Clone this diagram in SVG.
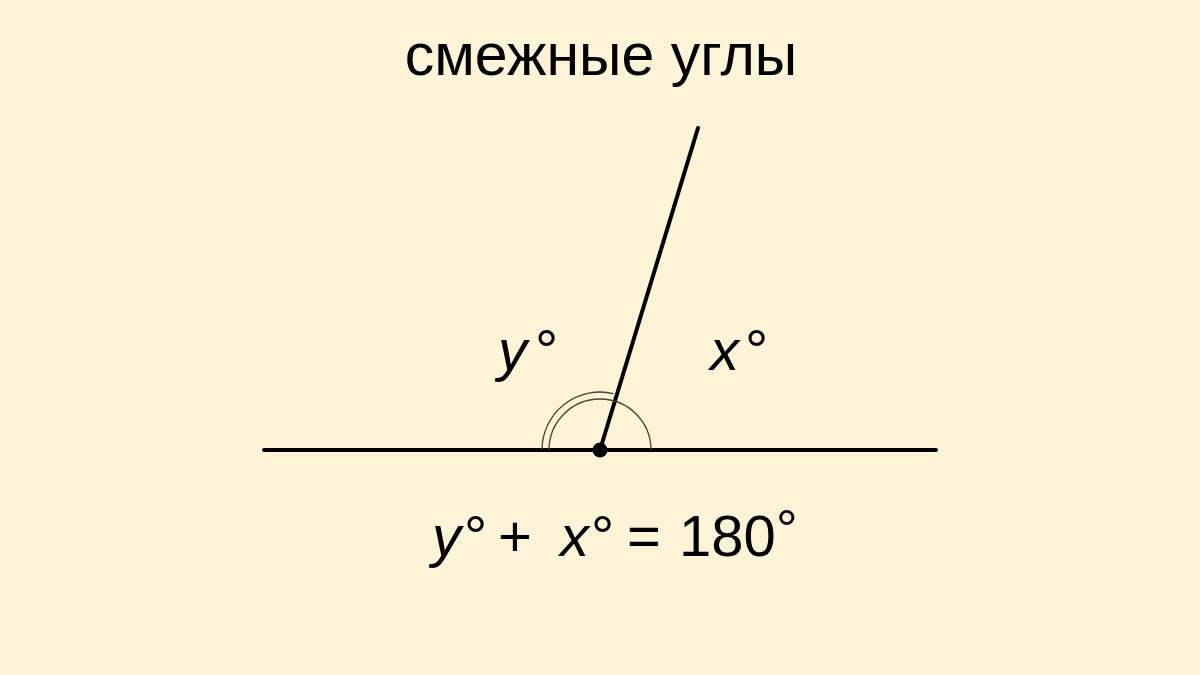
<svg xmlns="http://www.w3.org/2000/svg" width="1200" height="675" viewBox="0 0 1200 675">
<style>
.t{font-family:"Liberation Sans",Arial,sans-serif;fill:#000}
.i{font-style:italic}
.ln{stroke:#000;stroke-width:4;stroke-linecap:round;fill:none}
.arc{stroke:#4a4030;stroke-width:1.3;fill:none}
</style>
<rect width="1200" height="675" fill="#FDF3D7"/>
<g id="title"><text class="t" x="601" y="75" font-size="59" text-anchor="middle">смежные углы</text></g>
<g id="connectors">
<line class="ln" x1="264" y1="450" x2="936" y2="450"/>
<line class="ln" x1="600" y1="450" x2="698" y2="128"/>
<path class="arc" d="M542,450 A58,58 0 0 1 613.5,393.6"/>
<path class="arc" d="M549,450 A51,51 0 0 1 651,450"/>
</g>
<g id="vertex"><circle cx="600" cy="450" r="7.5" fill="#000"/></g>
<g id="label-y"><text class="t" x="498" y="370" font-size="58"><tspan class="i">y</tspan><tspan dx="8">°</tspan></text></g>
<g id="label-x"><text class="t" x="710" y="370" font-size="58"><tspan class="i">x</tspan><tspan dx="6">°</tspan></text></g>
<g id="formula">
<text class="t" x="432" y="556" font-size="58"><tspan class="i">y</tspan><tspan dx="3">°</tspan></text>
<text class="t" x="498" y="556" font-size="58">+</text>
<text class="t" x="560" y="556" font-size="58"><tspan class="i">x</tspan><tspan dx="2">°</tspan></text>
<text class="t" x="627" y="556" font-size="58">=</text>
<text class="t" x="679" y="556" font-size="58">180</text>
<text class="t" x="776" y="548" font-size="54">°</text>
</g>
</svg>
